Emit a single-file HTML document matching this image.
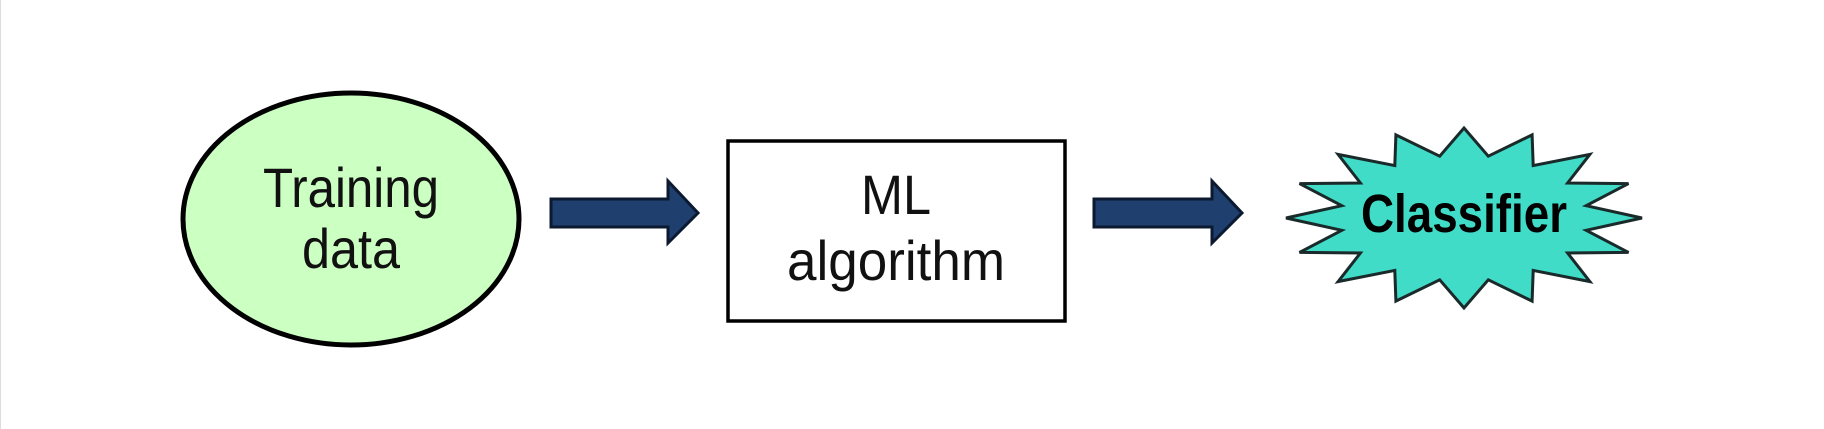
<!DOCTYPE html>
<html><head><style>
html,body{margin:0;padding:0;background:#fff;}
svg{display:block;}
text{font-family:"Liberation Sans",sans-serif;}
</style></head><body>
<svg width="1824" height="429" viewBox="0 0 1824 429" xmlns="http://www.w3.org/2000/svg">
<rect x="0" y="0" width="1824" height="429" fill="#fff"/>
<line x1="0.5" y1="0" x2="0.5" y2="429" stroke="#ddd" stroke-width="1"/>
<ellipse cx="351" cy="219" rx="168" ry="126" fill="#ccffc2" stroke="#000" stroke-width="5"/>
<text x="351" y="207" font-size="56" text-anchor="middle" fill="#111" textLength="176" lengthAdjust="spacingAndGlyphs">Training</text>
<text x="351" y="268" font-size="56" text-anchor="middle" fill="#111" textLength="98" lengthAdjust="spacingAndGlyphs">data</text>
<rect x="728" y="141" width="337" height="180" fill="#fff" stroke="#000" stroke-width="3.5"/>
<text x="896" y="214" font-size="56" text-anchor="middle" fill="#111" textLength="70" lengthAdjust="spacingAndGlyphs">ML</text>
<text x="896" y="280" font-size="56" text-anchor="middle" fill="#111" textLength="218" lengthAdjust="spacingAndGlyphs">algorithm</text>
<polygon points="551,199 668,199 668,181 698,213 668,243 668,227 551,227" fill="#1f3f6e" stroke="#0b1a30" stroke-width="3"/>
<polygon points="1094,199 1212,199 1212,181 1242,213 1212,243 1212,227 1094,227" fill="#1f3f6e" stroke="#0b1a30" stroke-width="3"/>
<polygon id="star" fill="#40dcc8" stroke="#1a2a2a" stroke-width="3" points=""/>
<text x="1464" y="232" font-size="54" font-weight="bold" text-anchor="middle" fill="#000" textLength="206" lengthAdjust="spacingAndGlyphs">Classifier</text>
</svg>
<script>
(function(){var cx=1464,cy=218,rx=178,ry=90,p=[];for(var i=0;i<32;i++){var a=(-90+i*11.25)*Math.PI/180;var r=i%2?0.7:1;p.push((cx+rx*r*Math.cos(a)).toFixed(1)+","+(cy+ry*r*Math.sin(a)).toFixed(1));}document.getElementById("star").setAttribute("points",p.join(" "));})();
</script>
</body></html>
